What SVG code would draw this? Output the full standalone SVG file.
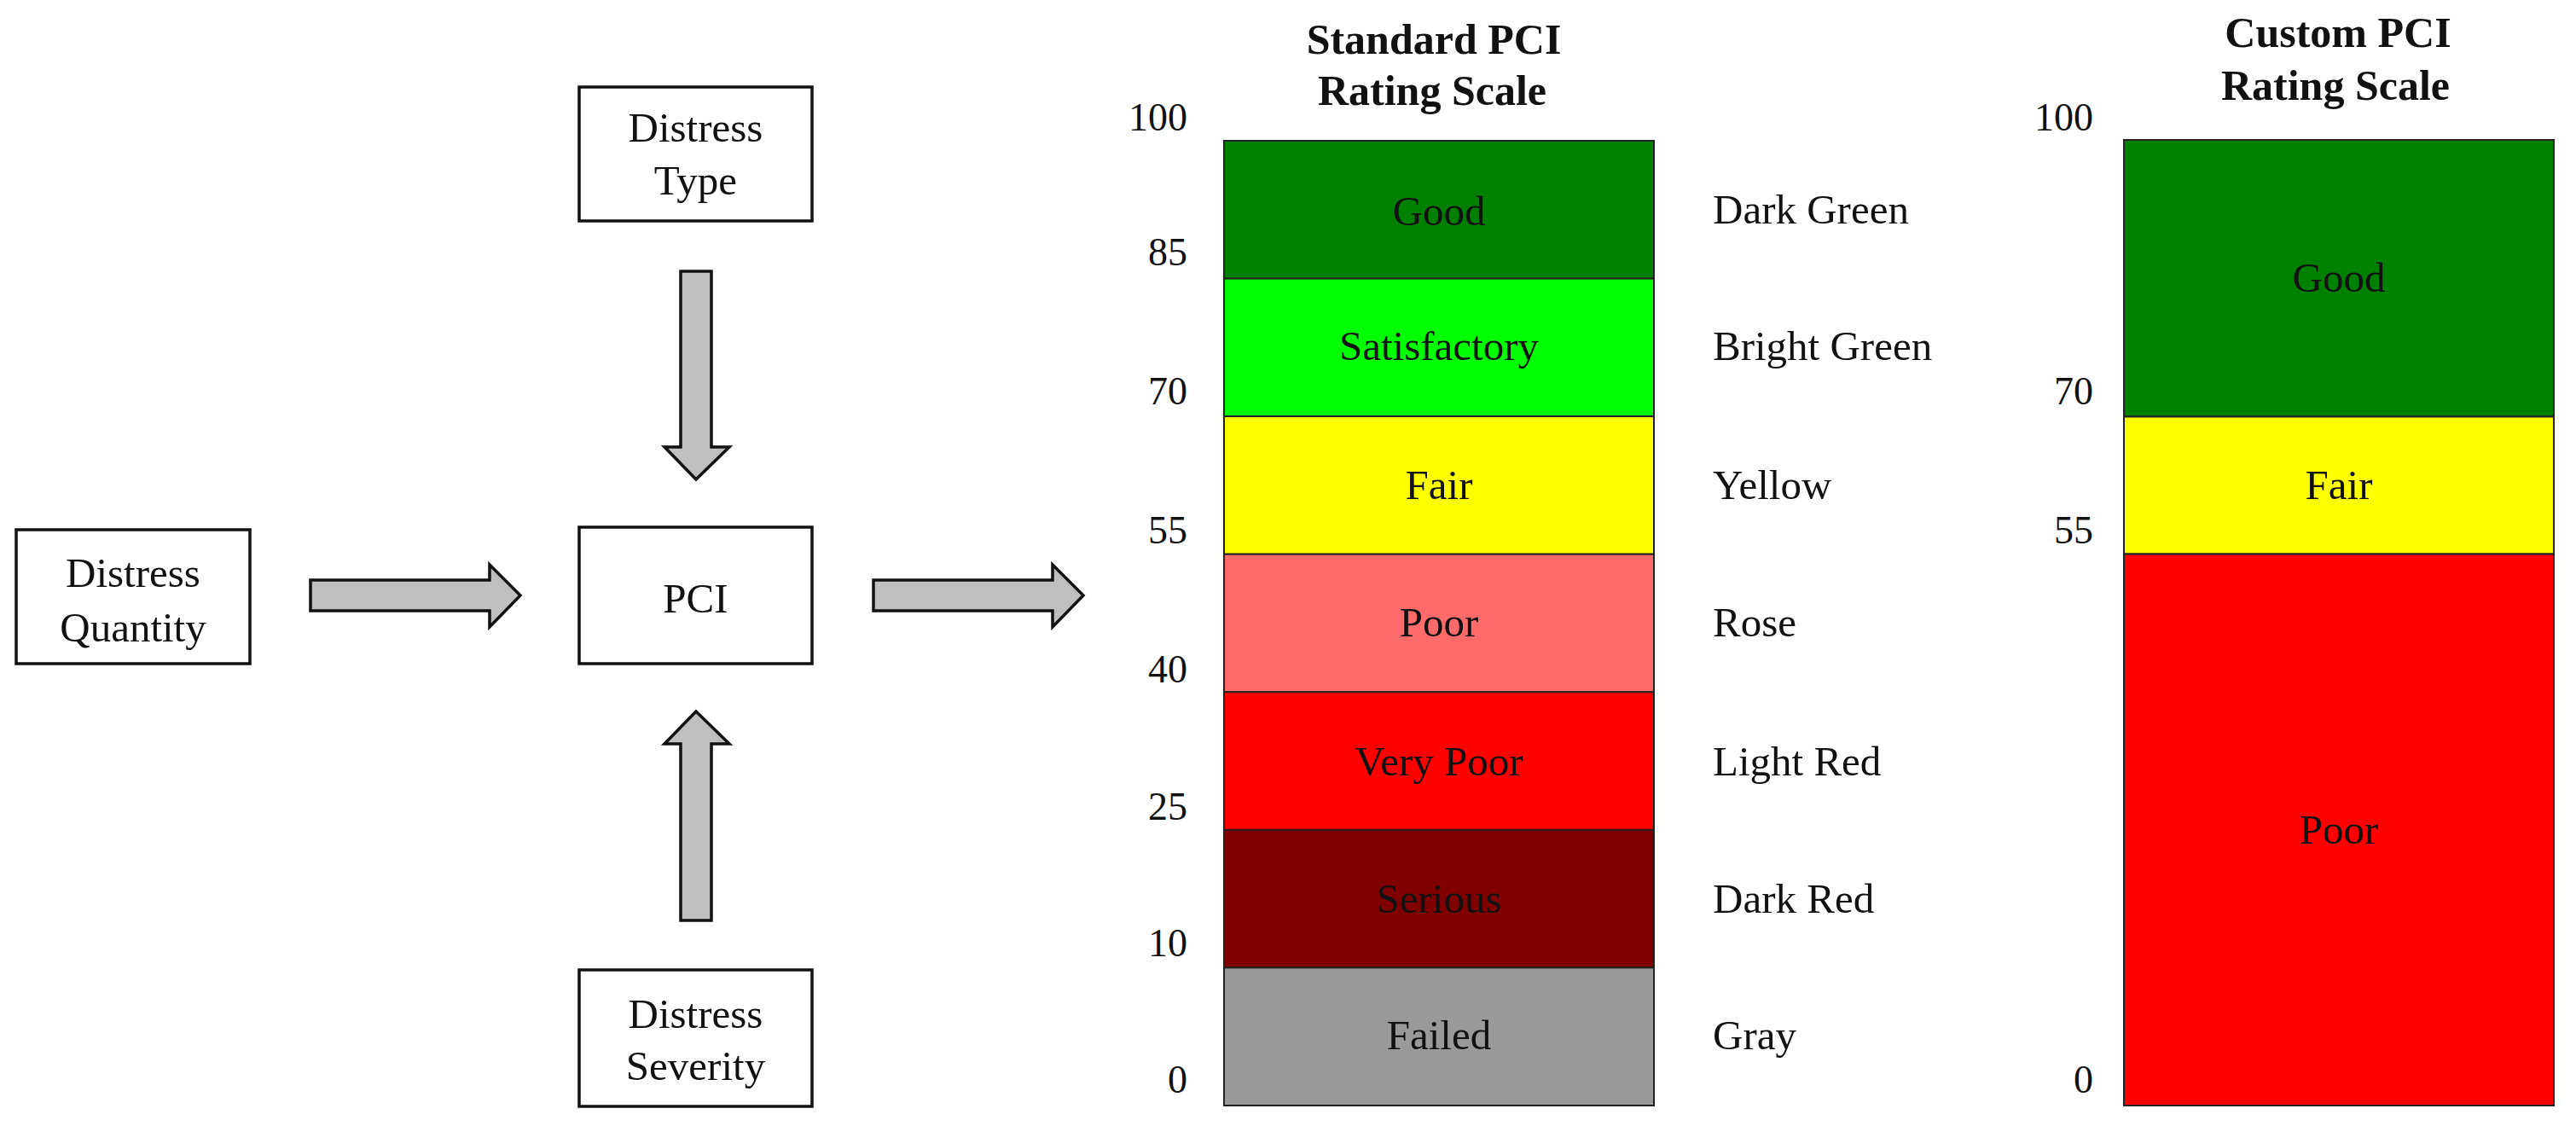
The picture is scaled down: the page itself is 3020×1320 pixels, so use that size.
<svg xmlns="http://www.w3.org/2000/svg" width="3020" height="1320" viewBox="0 0 3020 1320">
<style>
text{font-family:"Liberation Serif","Times New Roman",serif;fill:#111}
.lbl{font-size:49px;text-anchor:middle}
.num{font-size:46px;text-anchor:end}
.cname{font-size:49px;text-anchor:start}
.title{font-size:50px;font-weight:bold;text-anchor:middle}
.box{fill:#fff;stroke:#111;stroke-width:3.5}
.arrow{fill:#bfbfbf;stroke:#111;stroke-width:3.5;stroke-linejoin:miter}
.band{stroke:#222;stroke-width:2}
</style>
<rect width="3020" height="1320" fill="#fff"/>

<g id="distress-type">
<rect class="box" x="679" y="102" width="273" height="157"/>
<text class="lbl" x="815.5" y="166">Distress</text>
<text class="lbl" x="815.5" y="228">Type</text>
</g>
<g id="distress-quantity">
<rect class="box" x="19" y="621" width="274" height="157"/>
<text class="lbl" x="156" y="688">Distress</text>
<text class="lbl" x="156" y="752">Quantity</text>
</g>
<g id="pci">
<rect class="box" x="679" y="618" width="273" height="160"/>
<text class="lbl" x="815.5" y="718">PCI</text>
</g>
<g id="distress-severity">
<rect class="box" x="679" y="1137" width="273" height="160"/>
<text class="lbl" x="815.5" y="1205">Distress</text>
<text class="lbl" x="815.5" y="1266">Severity</text>
</g>

<g id="connectors">
<polygon class="arrow" points="798,318 834,318 834,524 855,524 816,562 779,524 798,524"/>
<polygon class="arrow" points="816,834 855,872 834,872 834,1079 798,1079 798,872 779,872"/>
<polygon class="arrow" points="364,680 574,680 574,662 610,698 574,735 574,716 364,716"/>
<polygon class="arrow" points="1024,680 1234,680 1234,662 1270,698 1234,735 1234,716 1024,716"/>
</g>

<g id="standard-scale">
<text class="title" x="1681" y="63">Standard PCI</text>
<text class="title" x="1679" y="123">Rating Scale</text>
<rect class="band" x="1435" y="165" width="504" height="161.6" fill="#008000"/>
<rect class="band" x="1435" y="326.6" width="504" height="161.5" fill="#00ff00"/>
<rect class="band" x="1435" y="488.1" width="504" height="161.6" fill="#ffff00"/>
<rect class="band" x="1435" y="649.7" width="504" height="161.6" fill="#ff6b6b"/>
<rect class="band" x="1435" y="811.3" width="504" height="161.6" fill="#ff0000"/>
<rect class="band" x="1435" y="972.9" width="504" height="161.5" fill="#800000"/>
<rect class="band" x="1435" y="1134.4" width="504" height="161.6" fill="#999999"/>
<text class="lbl" x="1687" y="264">Good</text>
<text class="lbl" x="1687" y="422">Satisfactory</text>
<text class="lbl" x="1687" y="585">Fair</text>
<text class="lbl" x="1687" y="746">Poor</text>
<text class="lbl" x="1687" y="909">Very Poor</text>
<text class="lbl" x="1687" y="1070">Serious</text>
<text class="lbl" x="1687" y="1230">Failed</text>
<text class="num" x="1392" y="153">100</text>
<text class="num" x="1392" y="311">85</text>
<text class="num" x="1392" y="474">70</text>
<text class="num" x="1392" y="637">55</text>
<text class="num" x="1392" y="800">40</text>
<text class="num" x="1392" y="961">25</text>
<text class="num" x="1392" y="1121">10</text>
<text class="num" x="1392" y="1281">0</text>
<text class="cname" x="2008" y="262">Dark Green</text>
<text class="cname" x="2008" y="422">Bright Green</text>
<text class="cname" x="2008" y="585">Yellow</text>
<text class="cname" x="2008" y="746">Rose</text>
<text class="cname" x="2008" y="909">Light Red</text>
<text class="cname" x="2008" y="1070">Dark Red</text>
<text class="cname" x="2008" y="1230">Gray</text>
</g>

<g id="custom-scale">
<text class="title" x="2741" y="55">Custom PCI</text>
<text class="title" x="2738" y="117">Rating Scale</text>
<rect class="band" x="2490" y="164" width="504" height="324.5" fill="#008000"/>
<rect class="band" x="2490" y="488.5" width="504" height="161" fill="#ffff00"/>
<rect class="band" x="2490" y="649.5" width="504" height="646.5" fill="#ff0000"/>
<text class="lbl" x="2742" y="342">Good</text>
<text class="lbl" x="2742" y="585">Fair</text>
<text class="lbl" x="2742" y="989">Poor</text>
<text class="num" x="2454" y="153">100</text>
<text class="num" x="2454" y="474">70</text>
<text class="num" x="2454" y="637">55</text>
<text class="num" x="2454" y="1281">0</text>
</g>
</svg>
